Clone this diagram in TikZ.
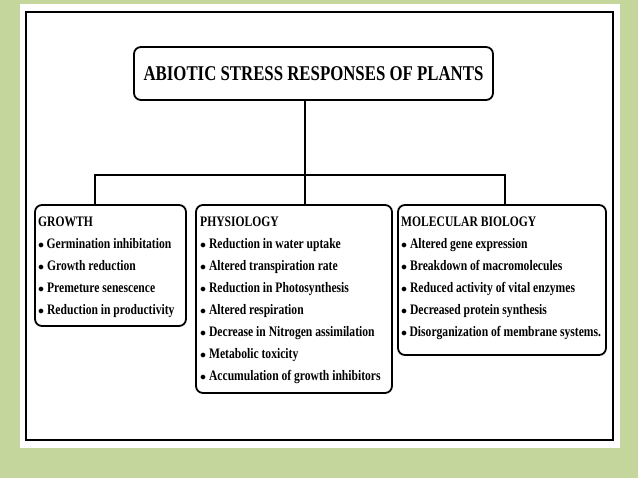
\documentclass[tikz,border=0pt]{standalone}
\usepackage{fontspec}
\setmainfont[FakeStretch=0.8]{Liberation Serif}
\newcommand{\bul}{\raisebox{0.5pt}{\large$\bullet$}}
\begin{document}
\begin{tikzpicture}[x=1pt,y=-1pt,
  box/.style={draw,line width=1.8pt,rounded corners=7pt},
  conn/.style={line width=1.6pt},
  item/.style={anchor=north west,align=left,inner sep=0pt,font=\bfseries\fontsize{14.5}{22}\selectfont}]
\useasboundingbox (0,0) rectangle (638,478);
\fill[fill={rgb,255:red,196;green,214;blue,156}] (0,0) rectangle (638,478);
\fill[white] (20,4) rectangle (620,448);
\draw[line width=1.6pt] (26,12) rectangle (613,440);
\draw[box] (134,47) rectangle (493,100);
\node (title) at (313.5,74) {\bfseries\fontsize{21}{24}\selectfont ABIOTIC STRESS RESPONSES OF PLANTS};
\draw[box] (35,205) rectangle (186,326);
\draw[box] (196,205) rectangle (392,393);
\draw[box] (398,205) rectangle (606,355);
\coordinate (t) at (305,100);
\coordinate (m) at (305,175);
\coordinate (g) at (95,205);
\coordinate (p) at (305,205);
\coordinate (b) at (505,205);
\draw[conn] (t) -- (p);
\draw[conn] (g) |- (m) -| (b);
\node[item] (gr) at (38,217) {GROWTH\\
\bul\,Germination inhibitation\\
\bul\ Growth reduction\\
\bul\ Premeture senescence\\
\bul\ Reduction in productivity};
\node[item] (ph) at (200,217) {PHYSIOLOGY\\
\bul\ Reduction in water uptake\\
\bul\ Altered transpiration rate\\
\bul\ Reduction in Photosynthesis\\
\bul\ Altered respiration\\
\bul\ Decrease in Nitrogen assimilation\\
\bul\ Metabolic toxicity\\
\bul\ Accumulation of growth inhibitors};
\node[item] (mo) at (401,217) {MOLECULAR BIOLOGY\\
\bul\ Altered gene expression\\
\bul\ Breakdown of macromolecules\\
\bul\ Reduced activity of vital enzymes\\
\bul\ Decreased protein synthesis\\
\bul\,Disorganization of membrane systems.};
\end{tikzpicture}
\end{document}
